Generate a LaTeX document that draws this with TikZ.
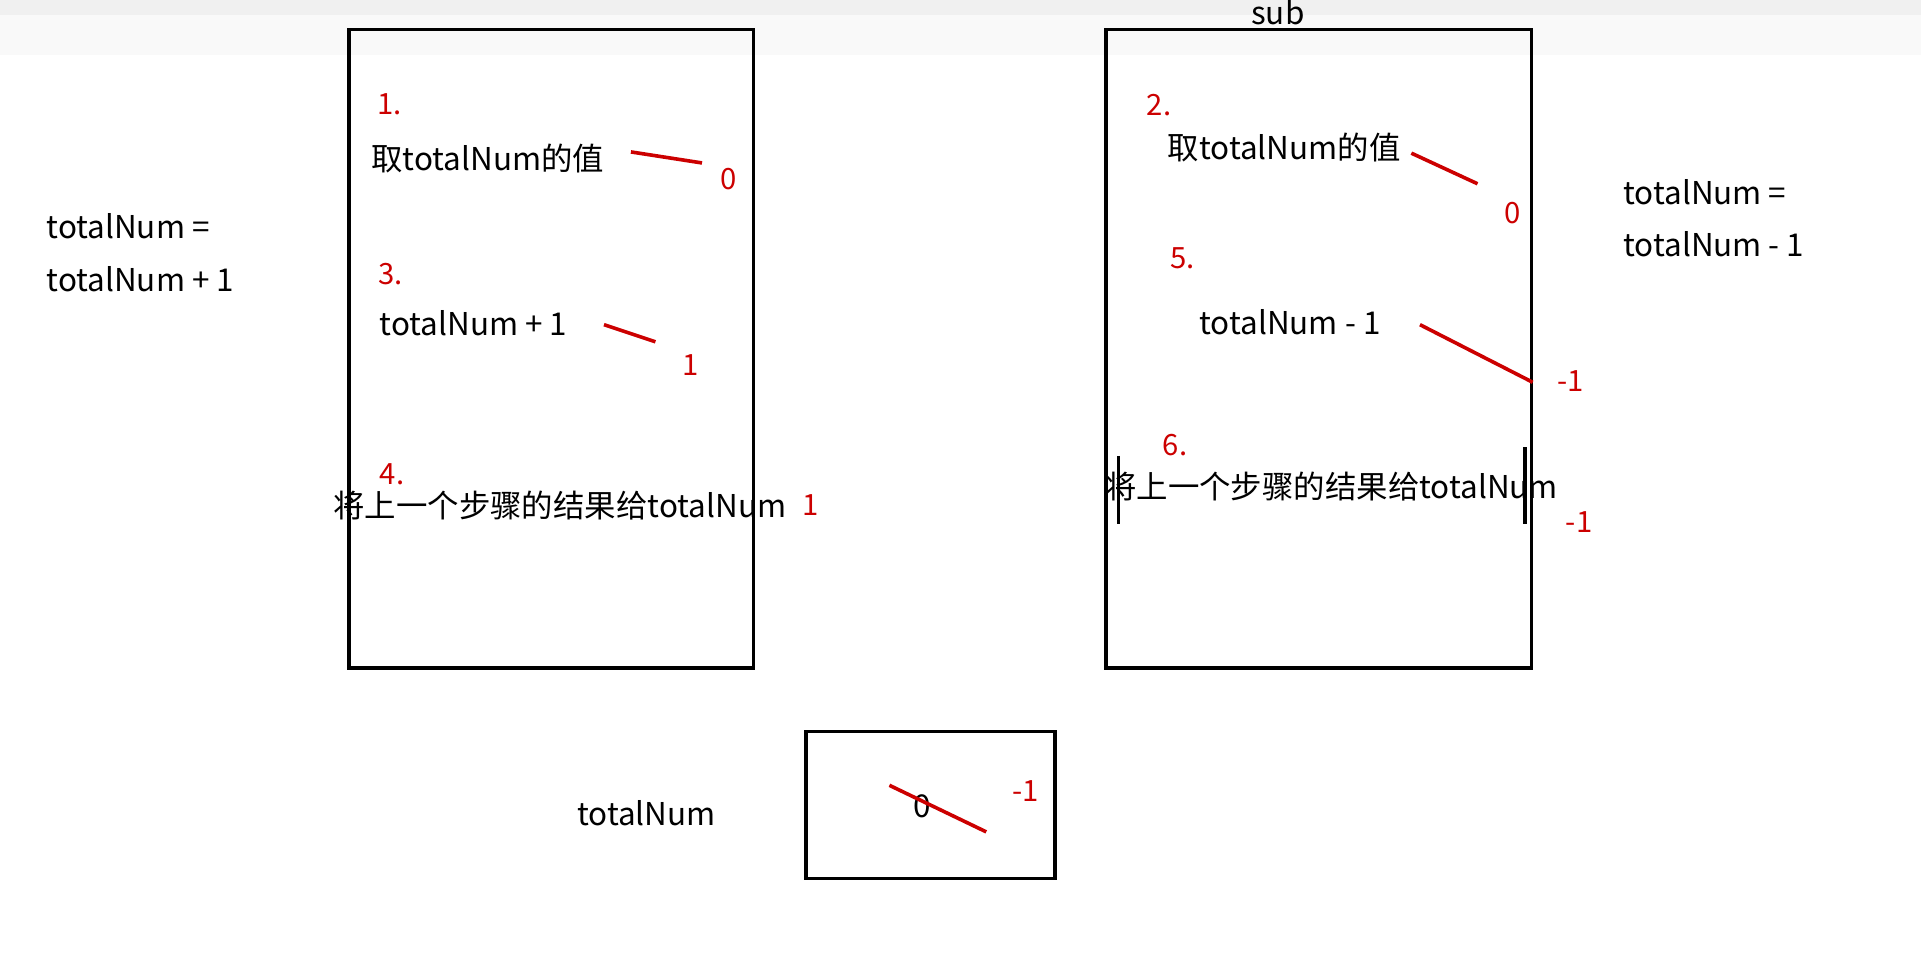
\documentclass[tikz,border=0pt]{standalone}
\usepackage{fontspec}
\setmainfont{Noto Sans CJK SC}
\begin{document}
\begin{tikzpicture}[x=0.05cm,y=-0.05cm,
  box/.style={draw=black,line width=4.2pt},
  bt/.style={anchor=west,inner sep=0pt,font=\fontsize{36.5}{41}\selectfont},
  rt/.style={anchor=west,inner sep=0pt,text=red!80!black,font=\fontsize{34}{39}\selectfont},
  rl/.style={draw=red!80!black,line width=4.2pt}]
\useasboundingbox[fill=white] (0,0) rectangle (1568,781);
\fill[gray!12] (0,0) rectangle (1568,12);
\fill[gray!5] (0,12) rectangle (1568,45);
\node[bt,anchor=base] (sub) at (1043,20) {sub};
\draw[box] (285,24) rectangle (615,545);
\draw[box] (903,24) rectangle (1250,545);
\draw[box] (658,597) rectangle (861,717);
\draw[line width=4.2pt] (913,372) -- (913,428);
\draw[line width=4.2pt] (1245,365) -- (1245,428);
\node[bt] (l1) at (38,185) {totalNum =};
\node[bt] (l2) at (38,228) {totalNum + 1};
\node[bt] (a1) at (303,129) {取totalNum的值};
\node[bt] (a3) at (310,264) {totalNum + 1};
\node[bt] (a4) at (272,413) {将上一个步骤的结果给totalNum};
\node[bt] (b2) at (953,120) {取totalNum的值};
\node[bt] (b5) at (979,263) {totalNum - 1};
\node[bt] (b6) at (902,397) {将上一个步骤的结果给totalNum};
\node[bt] (r1) at (1325,157) {totalNum =};
\node[bt] (r2) at (1325,199) {totalNum - 1};
\node[bt] (tn) at (471,664) {totalNum};
\node[bt,anchor=center] (z) at (753,658) {0};
\node[rt] at (308,85) {1.};
\node[rt] at (588,146) {0};
\node[rt] at (309,224) {3.};
\node[rt] at (557,298) {1};
\node[rt] at (310,387) {4.};
\node[rt] at (655,412) {1};
\node[rt] at (936,86) {2.};
\node[rt] at (1228,174) {0};
\node[rt] at (955,211) {5.};
\node[rt] at (1271,311) {-1};
\node[rt] at (949,363) {6.};
\node[rt] at (1278,426) {-1};
\node[rt] at (826,646) {-1};
\coordinate (p1) at (515,124); \coordinate (q1) at (573,133);
\coordinate (p2) at (493,265); \coordinate (q2) at (535,279);
\coordinate (p3) at (1152,125); \coordinate (q3) at (1206,150);
\coordinate (p4) at (1159,265); \coordinate (q4) at (1251,312);
\coordinate (p5) at (726,641); \coordinate (q5) at (805,679);
\draw[rl] (p1)--(q1); \draw[rl] (p2)--(q2); \draw[rl] (p3)--(q3);
\draw[rl] (p4)--(q4); \draw[rl] (p5)--(q5);
\end{tikzpicture}
\end{document}
